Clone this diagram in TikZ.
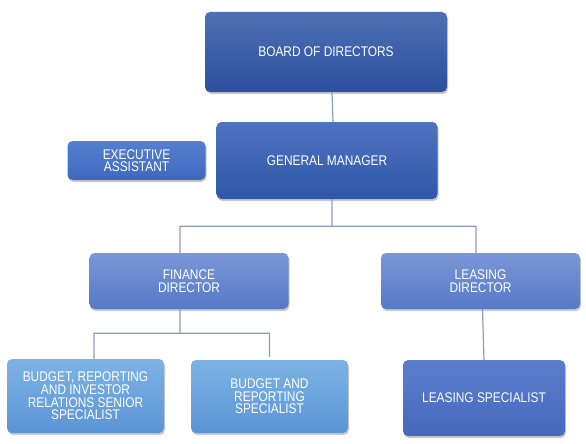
\documentclass[tikz,border=0pt]{standalone}
\usepackage{fontspec}
\setmainfont{Liberation Sans}[FakeStretch=0.85]
\usetikzlibrary{shadows}

\definecolor{boardtop}{HTML}{4E6FB4}
\definecolor{boardbot}{HTML}{2C509F}
\definecolor{gmtop}{HTML}{4E73C0}
\definecolor{gmbot}{HTML}{2F56A8}
\definecolor{eatop}{HTML}{5580D0}
\definecolor{eabot}{HTML}{3E68BE}
\definecolor{dirtop}{HTML}{7A97D6}
\definecolor{dirbot}{HTML}{5678C6}
\definecolor{spectop}{HTML}{7DB3E4}
\definecolor{specbot}{HTML}{5A94D6}
\definecolor{lstop}{HTML}{5B7ECB}
\definecolor{lsbot}{HTML}{4668BD}
\definecolor{wire}{HTML}{8A9CB8}

\begin{document}
\begin{tikzpicture}[x=1pt,y=-1pt,
    unit/.style={rounded corners=5pt,align=center,text=white,inner sep=2pt,
        font=\fontsize{14}{12.6}\selectfont,
        drop shadow={shadow xshift=1pt,shadow yshift=-2pt,opacity=.3,fill=black!70}},
    link/.style={draw=wire,line width=1.2pt}]

    \useasboundingbox (0,0) rectangle (586,444);

    \node[unit,top color=boardtop,bottom color=boardbot,minimum width=242pt,minimum height=80pt]  (board) at (326,52) {BOARD OF DIRECTORS};
    \node[unit,top color=gmtop,bottom color=gmbot,minimum width=221pt,minimum height=77pt]  (gm) at (327,160.5) {GENERAL MANAGER};
    \node[unit,top color=eatop,bottom color=eabot,minimum width=138pt,minimum height=39pt]  (ea) at (136.5,160.5) {EXECUTIVE\\ASSISTANT};

    \node[unit,top color=dirtop,bottom color=dirbot,minimum width=199pt,minimum height=56pt]  (fd) at (189,281) {FINANCE\\DIRECTOR};
    \node[unit,top color=dirtop,bottom color=dirbot,minimum width=199pt,minimum height=56pt]  (ld) at (480.5,281) {LEASING\\DIRECTOR};

    \node[unit,top color=spectop,bottom color=specbot,minimum width=157pt,minimum height=74pt]  (brsenior) at (85.5,396) {BUDGET, REPORTING\\AND INVESTOR\\RELATIONS SENIOR\\SPECIALIST};
    \node[unit,top color=spectop,bottom color=specbot,minimum width=157pt,minimum height=73pt]  (brspec) at (269.5,396.5) {BUDGET AND\\REPORTING\\SPECIALIST};
    \node[unit,top color=lstop,bottom color=lsbot,minimum width=162pt,minimum height=76pt]  (ls) at (484,398) {LEASING SPECIALIST};

    \path[link]
        ([xshift=6pt]board.south) -- ([xshift=6pt]gm.north)
        ([xshift=5pt]gm.south) -- ++(0,27) -| ([xshift=-9pt]fd.north)
        ([xshift=5pt]gm.south) ++(0,27) -| ([xshift=-4.5pt]ld.north)
        ([xshift=-9pt]fd.south) -- ++(0,24) -| ([xshift=8.5pt]brsenior.north)
        ([xshift=-9pt]fd.south) ++(0,24) -| ([yshift=3pt]brspec.north)
        ([xshift=2pt]ld.south) -- ([xshift=0pt]ls.north)
    ;
\end{tikzpicture}
\end{document}
